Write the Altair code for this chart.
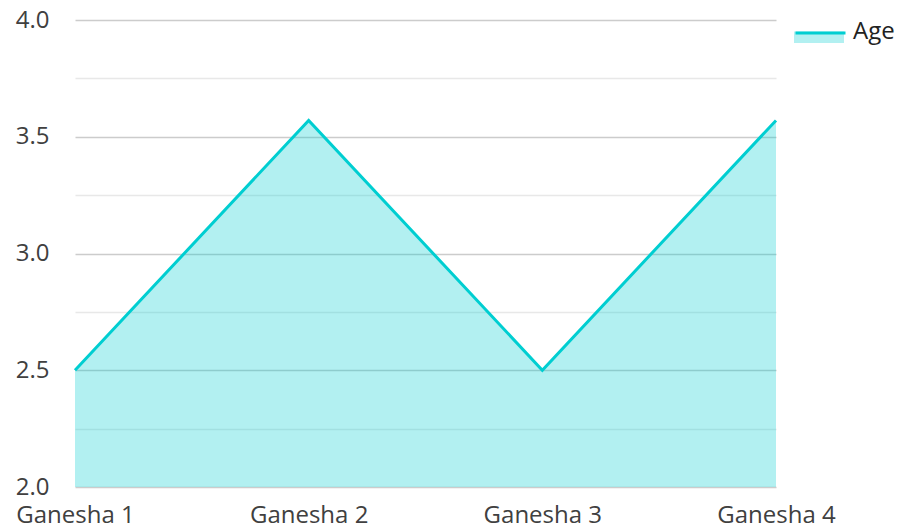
import altair as alt
import pandas as pd

categories = ["Ganesha 1", "Ganesha 2", "Ganesha 3", "Ganesha 4"]
age = [2.5, 3.57, 2.5, 3.57]
series_name = "Age"
y_ticks = [2.0, 2.25, 2.5, 2.75, 3.0, 3.25, 3.5, 3.75, 4.0]

df = pd.DataFrame({
    "name": categories,
    "value": age,
    "series": [series_name] * len(categories),
    "series_line": [series_name] * len(categories),
})

teal = "#00CED1"
font = "Open Sans"
label_color = "#404040"

x_enc = alt.X(
    "name:N", sort=categories,
    scale=alt.Scale(type="point", padding=0),
    axis=alt.Axis(title=None, labelAngle=0, domain=False, ticks=False, grid=False,
                  labelPadding=16, labelFontSize=24, labelFont=font, labelColor=label_color),
)
y_enc = alt.Y(
    "value:Q",
    scale=alt.Scale(domain=[2, 4], nice=False, zero=False),
    axis=alt.Axis(title=None, values=y_ticks, domain=False, ticks=False,
                  labelExpr="datum.value % 0.5 === 0 ? format(datum.value, '.1f') : ''",
                  labelFontSize=24, labelFont=font, labelColor=label_color, labelPadding=26,
                  gridColor=alt.condition("datum.value % 0.5 === 0", alt.value("#cccccc"), alt.value("#e8e8e8")),
                  gridWidth=1.5),
)

common_legend = dict(orient="none", legendX=719, legendY=-14.5, title=None, padding=0,
                     symbolSize=2500, labelFontSize=24, labelFont=font, labelColor="#222222",
                     labelOffset=6)

area = alt.Chart(df).mark_area(opacity=0.3, clip=True).encode(
    x=x_enc, y=y_enc,
    fill=alt.Fill("series:N", scale=alt.Scale(range=[teal]),
                  legend=alt.Legend(symbolType="M-1,0.04L1,0.04L1,0.5L-1,0.5Z", symbolStrokeWidth=0,
                                    symbolOpacity=0.3, labelExpr="''", **common_legend)),
)
line = alt.Chart(df).mark_line(strokeWidth=3).encode(
    x=x_enc, y=y_enc,
    stroke=alt.Stroke("series_line:N", scale=alt.Scale(range=[teal]),
                      legend=alt.Legend(symbolType="M-1,0.04L1,0.04", symbolStrokeWidth=3,
                                        symbolFillColor="transparent", **common_legend)),
)

chart = alt.layer(area, line).resolve_scale(fill="independent", stroke="independent").properties(
    width=701, height=467,
    autosize=alt.AutoSizeParams(type="none"),
    padding={"left": 67, "top": 12, "right": 122, "bottom": 44},
).configure_view(strokeWidth=0)

chart.save("out.html", embed_options={"renderer": "svg", "actions": False})
